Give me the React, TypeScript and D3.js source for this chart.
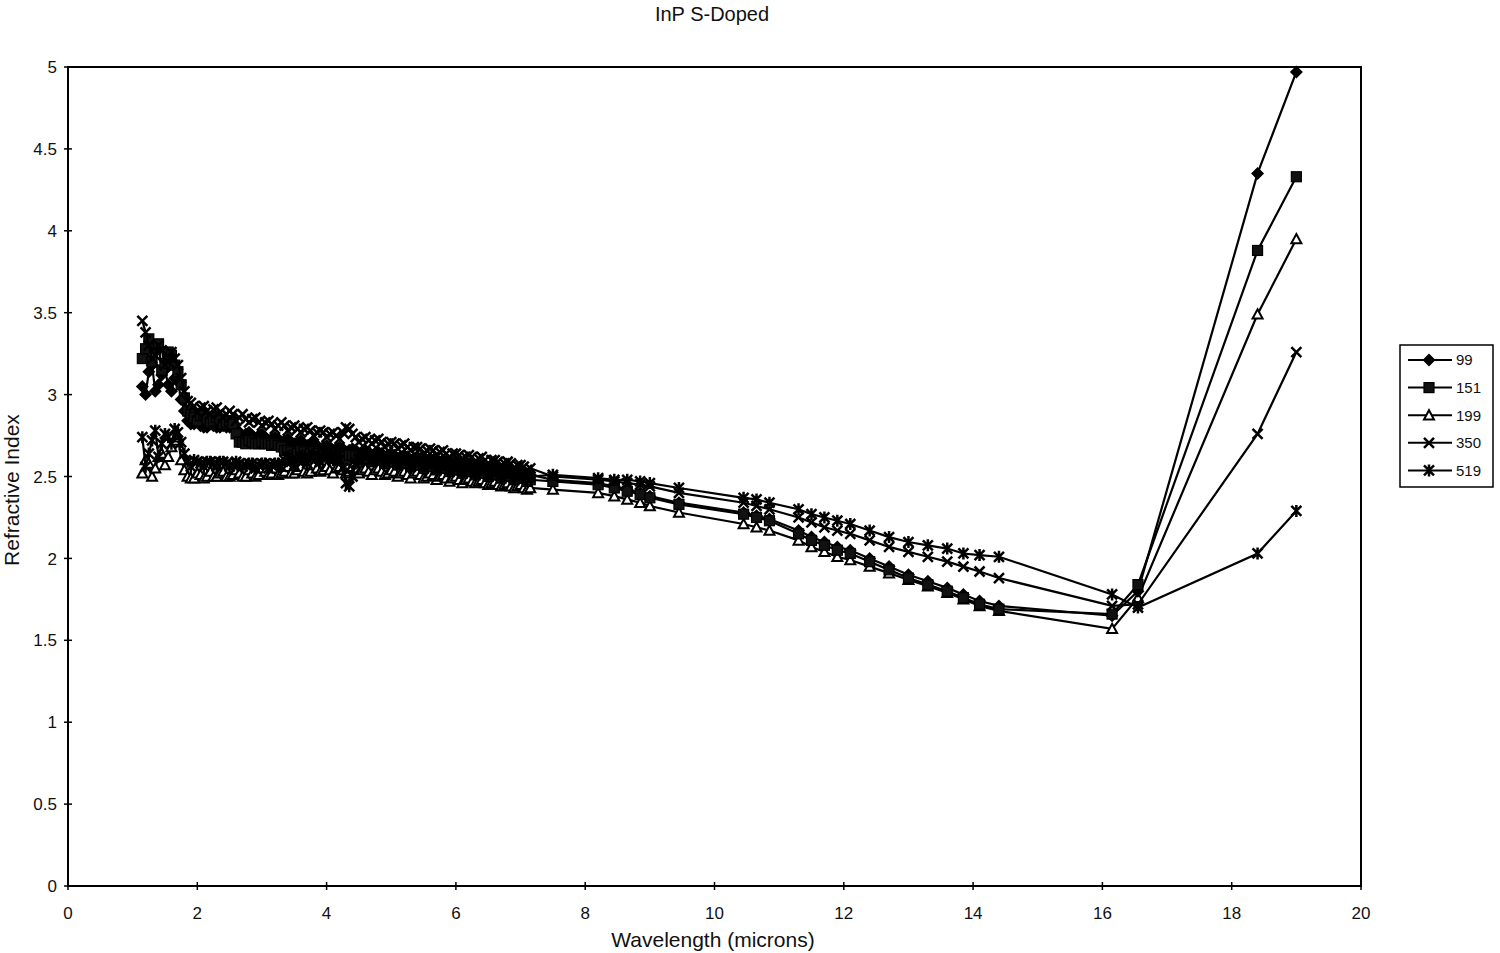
import * as d3 from 'd3';

// wavelength grids (microns): dense FTIR region (two interleaved grids), then the sparse points
const denseWavelength = [
  1.15, 1.25, 1.35, 1.45, 1.55, 1.65, 1.75, 1.85, 1.95, 2.05, 2.15, 2.25, 2.35, 2.45, 2.55, 2.65,
  2.75, 2.85, 2.95, 3.05, 3.15, 3.25, 3.35, 3.45, 3.55, 3.65, 3.75, 3.85, 3.95, 4.05, 4.15, 4.25,
  4.35, 4.45, 4.55, 4.65, 4.75, 4.85, 4.95, 5.05, 5.15, 5.25, 5.35, 5.45, 5.55, 5.65, 5.75, 5.85,
  5.95, 6.05, 6.15, 6.25, 6.35, 6.45, 6.55, 6.65, 6.75, 6.85, 6.95, 7.05, 7.15,
];
const midWavelength = [
  1.2, 1.3, 1.4, 1.5, 1.6, 1.7, 1.8, 1.9, 2.0, 2.1, 2.2, 2.3, 2.4, 2.5, 2.6, 2.7,
  2.8, 2.9, 3.0, 3.1, 3.2, 3.3, 3.4, 3.5, 3.6, 3.7, 3.8, 3.9, 4.0, 4.1, 4.2, 4.3,
  4.4, 4.5, 4.6, 4.7, 4.8, 4.9, 5.0, 5.1, 5.2, 5.3, 5.4, 5.5, 5.6, 5.7, 5.8, 5.9,
  6.0, 6.1, 6.2, 6.3, 6.4, 6.5, 6.6, 6.7, 6.8, 6.9, 7.0, 7.1,
];
const sparseWavelength = [
  7.5, 8.2, 8.45, 8.65, 8.85, 9.0, 9.45, 10.45, 10.65, 10.85, 11.3, 11.5, 11.7, 11.9, 12.1, 12.4,
  12.7, 13.0, 13.3, 13.6, 13.85, 14.1, 14.4, 16.15, 16.55, 18.4, 19.0,
];

const n99Dense = [
  3.05, 3.14, 3.02, 3.12, 3.06, 3.1, 2.97, 2.84, 2.82, 2.81, 2.8, 2.81, 2.8, 2.8, 2.8, 2.77,
  2.76, 2.75, 2.75, 2.74, 2.73, 2.73, 2.72, 2.71, 2.71, 2.7, 2.7, 2.69, 2.68, 2.68, 2.67, 2.67,
  2.66, 2.66, 2.65, 2.65, 2.64, 2.64, 2.63, 2.63, 2.62, 2.62, 2.61, 2.61, 2.6, 2.6, 2.59, 2.59,
  2.58, 2.58, 2.57, 2.57, 2.56, 2.56, 2.55, 2.55, 2.54, 2.53, 2.53, 2.52, 2.51,
];
const n99Mid = [
  3.0, 3.18, 3.06, 3.15, 3.02, 3.08, 2.9, 2.82, 2.83, 2.8, 2.82, 2.8, 2.81, 2.8, 2.79, 2.75,
  2.77, 2.73, 2.76, 2.72, 2.74, 2.71, 2.73, 2.7, 2.72, 2.69, 2.71, 2.67, 2.69, 2.66, 2.68, 2.65,
  2.67, 2.64, 2.66, 2.63, 2.65, 2.62, 2.64, 2.61, 2.63, 2.6, 2.62, 2.59, 2.61, 2.58, 2.6, 2.57,
  2.59, 2.56, 2.58, 2.55, 2.57, 2.54, 2.56, 2.53, 2.55, 2.52, 2.54, 2.51,
];
const n99Sparse = [
  2.48, 2.46, 2.44, 2.42, 2.4, 2.38, 2.34, 2.28, 2.26, 2.24, 2.17, 2.13, 2.1, 2.07, 2.05, 2.0,
  1.95, 1.9, 1.86, 1.82, 1.78, 1.74, 1.71, 1.65, 1.8, 4.35, 4.97,
];

const n151Dense = [
  3.22, 3.34, 3.28, 3.15, 3.26, 3.18, 3.06, 2.9, 2.86, 2.87, 2.85, 2.84, 2.85, 2.83, 2.82, 2.71,
  2.7, 2.71, 2.7, 2.7, 2.69, 2.69, 2.66, 2.65, 2.64, 2.65, 2.64, 2.64, 2.63, 2.64, 2.63, 2.62,
  2.63, 2.62, 2.61, 2.61, 2.6, 2.61, 2.59, 2.59, 2.58, 2.58, 2.57, 2.57, 2.56, 2.56, 2.55, 2.55,
  2.54, 2.54, 2.53, 2.53, 2.52, 2.52, 2.51, 2.51, 2.5, 2.5, 2.49, 2.49, 2.48,
];
const n151Mid = [
  3.28, 3.2, 3.31, 3.19, 3.24, 3.14, 2.98, 2.88, 2.84, 2.88, 2.83, 2.86, 2.82, 2.84, 2.76, 2.71,
  2.72, 2.7, 2.71, 2.7, 2.7, 2.68, 2.66, 2.63, 2.66, 2.63, 2.65, 2.62, 2.64, 2.61, 2.63, 2.6,
  2.63, 2.6, 2.62, 2.59, 2.61, 2.58, 2.6, 2.57, 2.59, 2.56, 2.58, 2.55, 2.57, 2.54, 2.56, 2.53,
  2.55, 2.52, 2.54, 2.51, 2.53, 2.5, 2.52, 2.49, 2.51, 2.48, 2.5, 2.47,
];
const n151Sparse = [
  2.47, 2.45, 2.43, 2.41, 2.39, 2.37, 2.33, 2.27, 2.25, 2.23, 2.15, 2.11, 2.08, 2.05, 2.03, 1.98,
  1.93, 1.88, 1.84, 1.8, 1.76, 1.72, 1.69, 1.66, 1.84, 3.88, 4.33,
];

const n199Dense = [
  2.52, 2.58, 2.55, 2.64, 2.62, 2.72, 2.6, 2.5, 2.49, 2.51, 2.5, 2.5, 2.52, 2.5, 2.51, 2.52,
  2.5, 2.52, 2.51, 2.53, 2.52, 2.51, 2.53, 2.52, 2.54, 2.53, 2.53, 2.55, 2.54, 2.54, 2.55, 2.54,
  2.53, 2.55, 2.54, 2.53, 2.54, 2.53, 2.52, 2.53, 2.52, 2.51, 2.52, 2.51, 2.5, 2.51, 2.5, 2.49,
  2.49, 2.48, 2.48, 2.47, 2.47, 2.46, 2.46, 2.45, 2.45, 2.44, 2.44, 2.43, 2.43,
];
const n199Mid = [
  2.6, 2.5, 2.62, 2.57, 2.68, 2.74, 2.54, 2.49, 2.52, 2.49, 2.53, 2.5, 2.53, 2.5, 2.54, 2.5,
  2.54, 2.5, 2.55, 2.51, 2.55, 2.52, 2.56, 2.52, 2.56, 2.52, 2.57, 2.53, 2.56, 2.52, 2.56, 2.52,
  2.56, 2.52, 2.55, 2.51, 2.55, 2.51, 2.54, 2.5, 2.53, 2.49, 2.53, 2.49, 2.52, 2.48, 2.51, 2.47,
  2.5, 2.46, 2.49, 2.46, 2.48, 2.45, 2.47, 2.44, 2.46, 2.43, 2.45, 2.42,
];
const n199Sparse = [
  2.42, 2.4, 2.38, 2.36, 2.34, 2.32, 2.28, 2.21, 2.19, 2.17, 2.11, 2.07, 2.04, 2.01, 1.99, 1.95,
  1.91, 1.87, 1.83, 1.79, 1.75, 1.71, 1.68, 1.57, 1.76, 3.49, 3.95,
];

const n350Dense = [
  3.45, 3.3, 3.24, 3.27, 3.2, 3.22, 3.1, 2.96, 2.93, 2.92, 2.9, 2.91, 2.89, 2.88, 2.88, 2.86,
  2.85, 2.85, 2.83, 2.83, 2.82, 2.81, 2.81, 2.8, 2.79, 2.79, 2.78, 2.77, 2.77, 2.76, 2.75, 2.77,
  2.79, 2.74, 2.73, 2.72, 2.72, 2.71, 2.7, 2.7, 2.69, 2.68, 2.68, 2.67, 2.66, 2.66, 2.65, 2.64,
  2.64, 2.63, 2.62, 2.62, 2.61, 2.6, 2.6, 2.59, 2.58, 2.58, 2.57, 2.56, 2.55,
];
const n350Mid = [
  3.38, 3.22, 3.3, 3.18, 3.26, 3.18, 3.02, 2.95, 2.89, 2.93, 2.88, 2.92, 2.86, 2.9, 2.84, 2.88,
  2.83, 2.86, 2.81, 2.84, 2.79, 2.83, 2.78, 2.81, 2.77, 2.8, 2.75, 2.78, 2.74, 2.77, 2.73, 2.8,
  2.76, 2.71, 2.74, 2.7, 2.73, 2.68, 2.71, 2.67, 2.7, 2.66, 2.68, 2.64, 2.67, 2.63, 2.66, 2.62,
  2.64, 2.61, 2.63, 2.59, 2.62, 2.58, 2.6, 2.57, 2.59, 2.55, 2.57, 2.54,
];
const n350Sparse = [
  2.5, 2.48, 2.47, 2.46, 2.45, 2.44, 2.4, 2.34, 2.32, 2.3, 2.25, 2.22, 2.19, 2.17, 2.15, 2.11,
  2.07, 2.04, 2.01, 1.98, 1.95, 1.92, 1.88, 1.71, 1.72, 2.76, 3.26,
];

const n519Dense = [
  2.74, 2.64, 2.78, 2.7, 2.74, 2.79, 2.71, 2.59, 2.6, 2.58, 2.59, 2.58, 2.59, 2.58, 2.57, 2.58,
  2.57, 2.58, 2.57, 2.58, 2.57, 2.58, 2.6, 2.59, 2.6, 2.6, 2.61, 2.61, 2.62, 2.63, 2.62, 2.55,
  2.44, 2.58, 2.63, 2.63, 2.62, 2.62, 2.61, 2.61, 2.6, 2.6, 2.59, 2.59, 2.58, 2.58, 2.57, 2.57,
  2.56, 2.56, 2.55, 2.55, 2.54, 2.54, 2.53, 2.53, 2.52, 2.52, 2.51, 2.51, 2.5,
];
const n519Mid = [
  2.56, 2.72, 2.62, 2.76, 2.7, 2.77, 2.64, 2.56, 2.59, 2.56, 2.59, 2.56, 2.59, 2.56, 2.59, 2.56,
  2.58, 2.55, 2.58, 2.55, 2.58, 2.56, 2.62, 2.57, 2.62, 2.58, 2.63, 2.59, 2.64, 2.6, 2.6, 2.46,
  2.5, 2.61, 2.65, 2.6, 2.64, 2.59, 2.63, 2.58, 2.62, 2.57, 2.61, 2.56, 2.6, 2.55, 2.59, 2.54,
  2.58, 2.53, 2.57, 2.52, 2.56, 2.51, 2.55, 2.5, 2.54, 2.49, 2.53, 2.49,
];
const n519Sparse = [
  2.51, 2.49, 2.48, 2.48, 2.47, 2.46, 2.43, 2.37, 2.36, 2.34, 2.3, 2.27, 2.25, 2.23, 2.21, 2.17,
  2.13, 2.1, 2.08, 2.06, 2.03, 2.02, 2.01, 1.78, 1.7, 2.03, 2.29,
];

const seriesNames = ['99', '151', '199', '350', '519'];
const xTickValues = [0, 2, 4, 6, 8, 10, 12, 14, 16, 18, 20];
const yTickValues = [0, 0.5, 1, 1.5, 2, 2.5, 3, 3.5, 4, 4.5, 5];

type Pt = { x: number; y: number };
type MarkerKind = 'diamond' | 'square' | 'triangle' | 'cross' | 'star';

const toPoints = (dense: number[], mid: number[], sparse: number[]): Pt[] =>
  [
    ...denseWavelength.map((w, i) => ({ x: w, y: dense[i] })),
    ...midWavelength.map((w, i) => ({ x: w, y: mid[i] })),
    ...sparseWavelength.map((w, i) => ({ x: w, y: sparse[i] })),
  ].sort((a, b) => a.x - b.x);

const series: { name: string; marker: MarkerKind; points: Pt[] }[] = [
  { name: seriesNames[0], marker: 'diamond', points: toPoints(n99Dense, n99Mid, n99Sparse) },
  { name: seriesNames[1], marker: 'square', points: toPoints(n151Dense, n151Mid, n151Sparse) },
  { name: seriesNames[2], marker: 'triangle', points: toPoints(n199Dense, n199Mid, n199Sparse) },
  { name: seriesNames[3], marker: 'cross', points: toPoints(n350Dense, n350Mid, n350Sparse) },
  { name: seriesNames[4], marker: 'star', points: toPoints(n519Dense, n519Mid, n519Sparse) },
];

function Marker({ kind, cx, cy }: { kind: MarkerKind; cx: number; cy: number }) {
  const r = 5;
  const t = `translate(${cx},${cy})`;
  if (kind === 'diamond') {
    return <path transform={t} d={`M0,${-r - 1.5}L${r + 1.5},0L0,${r + 1.5}L${-r - 1.5},0Z`} fill="#000" />;
  }
  if (kind === 'square') {
    return <rect x={cx - r} y={cy - r} width={r * 2} height={r * 2} fill="#111" stroke="#000" strokeWidth={1.2} />;
  }
  if (kind === 'triangle') {
    return (
      <path transform={t} d={`M0,${-r}L${r},${r * 0.85}L${-r},${r * 0.85}Z`} fill="#fff" stroke="#000" strokeWidth={2} />
    );
  }
  if (kind === 'cross') {
    return <path transform={t} d={`M${-r},${-r}L${r},${r}M${-r},${r}L${r},${-r}`} stroke="#000" strokeWidth={2.5} />;
  }
  return (
    <path
      transform={t}
      d={`M${-r},${-r}L${r},${r}M${-r},${r}L${r},${-r}M0,${-r - 1}L0,${r + 1}`}
      stroke="#000"
      strokeWidth={2.5}
    />
  );
}

export default function App() {
  const width = 1500;
  const height = 953;
  const x = d3.scaleLinear().domain([0, 20]).range([68, 1361]);
  const y = d3.scaleLinear().domain([0, 5]).range([886, 67]);

  const line = d3
    .line<Pt>()
    .x((d) => x(d.x))
    .y((d) => y(d.y));

  // draw triangles first so the filled markers sit on top in the dense band
  const drawOrder = [2, 0, 1, 3, 4];
  const font = '"Liberation Sans", Arial, sans-serif';

  const legendX = 1400;
  const legendY = 345;
  const rowGap = 27.6;

  return (
    <div style={{ position: 'absolute', left: 0, top: 0 }}>
      <svg width={width} height={height} style={{ display: 'block', background: '#fff' }} fontFamily={font}>
        <rect width={width} height={height} fill="#fff" />

        {/* title */}
        <text x={712} y={21} textAnchor="middle" fontSize={20} fill="#111">
          InP S-Doped
        </text>

        {/* plot frame */}
        <rect x={x(0)} y={y(5)} width={x(20) - x(0)} height={y(0) - y(5)} fill="none" stroke="#000" strokeWidth={2} />

        {/* y axis ticks + labels */}
        {yTickValues.map((v) => (
          <g key={`y${v}`}>
            <line x1={x(0) - 4} x2={x(0) + 4} y1={y(v)} y2={y(v)} stroke="#000" strokeWidth={1.5} />
            <text x={57} y={y(v)} dy="0.36em" textAnchor="end" fontSize={17} fill="#111">
              {String(v)}
            </text>
          </g>
        ))}

        {/* x axis ticks + labels */}
        {xTickValues.map((v) => (
          <g key={`x${v}`}>
            <line x1={x(v)} x2={x(v)} y1={y(0) - 4} y2={y(0) + 4} stroke="#000" strokeWidth={1.5} />
            <text x={x(v)} y={919} textAnchor="middle" fontSize={17} fill="#111">
              {String(v)}
            </text>
          </g>
        ))}

        {/* axis titles */}
        <text x={713} y={947} textAnchor="middle" fontSize={21} fill="#111">
          Wavelength (microns)
        </text>
        <text transform="translate(19,490) rotate(-90)" textAnchor="middle" fontSize={21} fill="#111">
          Refractive Index
        </text>

        {/* series */}
        {drawOrder.map((i) => {
          const s = series[i];
          return (
            <g key={s.name}>
              <path d={line(s.points) ?? ''} fill="none" stroke="#000" strokeWidth={2.2} />
              {s.points.map((p, j) => (
                <Marker key={j} kind={s.marker} cx={x(p.x)} cy={y(p.y)} />
              ))}
            </g>
          );
        })}

        {/* legend */}
        <rect x={legendX} y={legendY} width={93} height={142} fill="#fff" stroke="#000" strokeWidth={1.5} />
        {series.map((s, i) => {
          const cy = legendY + 15 + i * rowGap;
          return (
            <g key={`leg${s.name}`}>
              <line x1={legendX + 8} x2={legendX + 52} y1={cy} y2={cy} stroke="#000" strokeWidth={2} />
              <Marker kind={s.marker} cx={legendX + 29} cy={cy} />
              <text x={legendX + 56} y={cy} dy="0.36em" fontSize={15} fill="#111">
                {s.name}
              </text>
            </g>
          );
        })}
      </svg>
    </div>
  );
}
